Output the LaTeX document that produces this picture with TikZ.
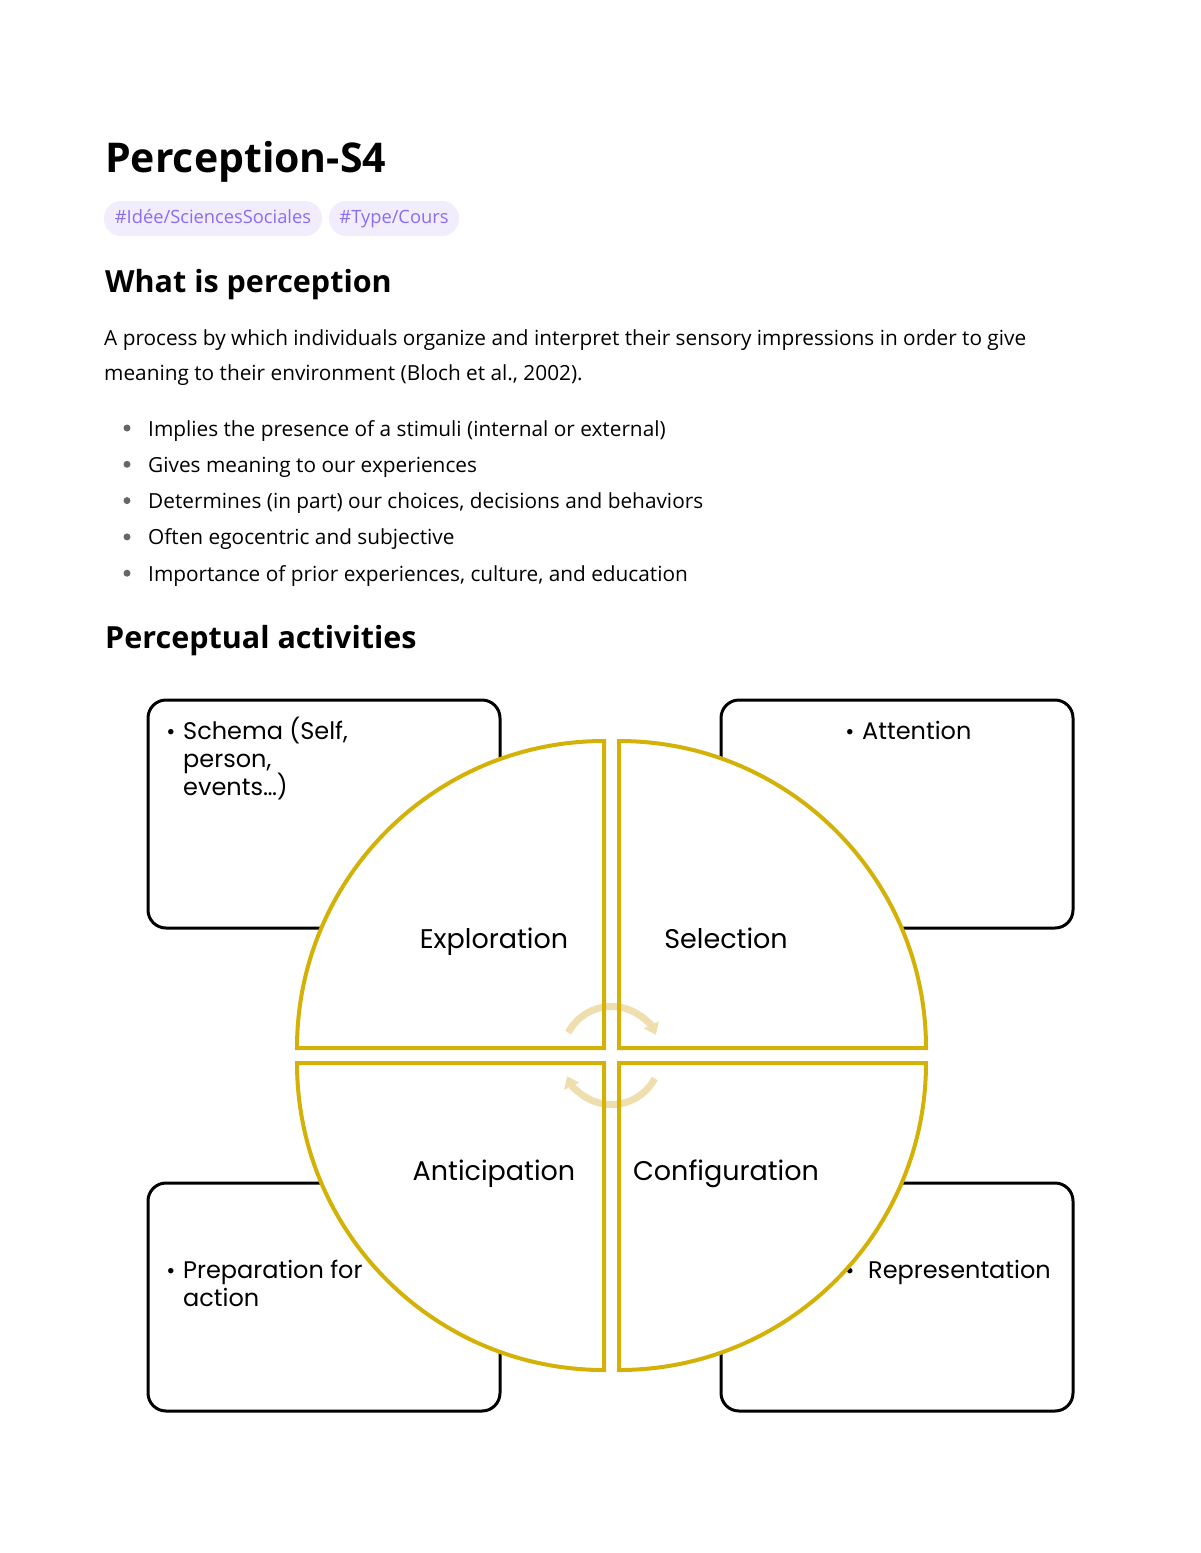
\documentclass[tikz,border=0pt]{standalone}
\usepackage{fontspec}
\setmainfont{Open Sans}
\newfontfamily\gothic{Poppins}
\usetikzlibrary{arrows.meta}
\definecolor{gold}{HTML}{D4B106}
\definecolor{lgold}{HTML}{F0DFAE}
\definecolor{tagbg}{HTML}{F1EDFD}
\definecolor{tagfg}{HTML}{8B6CF2}
\definecolor{dotgray}{HTML}{666666}
\begin{document}
\begin{tikzpicture}[x=1pt,y=1pt,
  txt/.style={anchor=base west,inner sep=0pt},
  heading/.style={txt,font=\bfseries\fontsize{30.5}{36}\selectfont},
  body/.style={txt,font=\fontsize{20.8}{24}\selectfont},
  tag/.style={fill=tagbg,text=tagfg,rounded corners=17pt,minimum height=35pt,inner sep=0pt,text height=13pt,text depth=4pt,font=\fontsize{18.3}{20}\selectfont},
  box/.style={draw=black,line width=3pt,rounded corners=18pt,fill=white},
  quadfill/.style={fill=white},
  quadline/.style={draw=gold,line width=4pt,line join=miter},
  cyc/.style={draw=lgold,line width=7pt,-{Triangle[width=16pt,length=11pt]}},
  btxt/.style={anchor=base west,inner sep=0pt,font=\gothic\fontsize{24}{28}\selectfont},
  bdot/.style={anchor=base,inner sep=0pt,font=\gothic\fontsize{22}{28}\selectfont},
  qlab/.style={anchor=base,inner sep=0pt,font=\gothic\fontsize{27}{30}\selectfont},
  dot/.style={circle,fill=dotgray,inner sep=0pt,minimum size=7pt}
]
\useasboundingbox (0,0) rectangle (1200,-1553);
% header
\node[txt,font=\bfseries\fontsize{41}{50}\selectfont] (title) at (105,-172) {Perception-S4};
\node[tag,minimum width=218pt] (tag1) at (213,-218.5) {\#Idée/SciencesSociales};
\node[tag,minimum width=130pt] (tag2) at (394,-218.5) {\#Type/Cours};
\node[heading] (h1) at (105,-292) {What is perception};
\node[body] (p1) at (104,-345) {A process by which individuals organize and interpret their sensory impressions in order to give};
\node[body] (p2) at (104,-380) {meaning to their environment (Bloch et al., 2002).};
\foreach \t [count=\i] in {Implies the presence of a stimuli (internal or external),
  Gives meaning to our experiences,
  {Determines (in part) our choices, decisions and behaviors},
  Often egocentric and subjective,
  {Importance of prior experiences, culture, and education}}{
  \node[dot] (d\i) at (127,{-428-36.3*(\i-1)}) {};
  \node[body] (b\i) at (148,{-436-36.3*(\i-1)}) {\t};
}
\node[heading] (h2) at (105,-648) {Perceptual activities};
% boxes
\draw[box] (148,-700) rectangle (500,-928);
\draw[box] (721,-700) rectangle (1073,-928);
\draw[box] (148,-1183) rectangle (500,-1411);
\draw[box] (721,-1183) rectangle (1073,-1411);
\node[bdot] (s0) at (171,-739) {•};
\node[btxt] (s1) at (183,-739) {Schema (Self,};
\node[btxt] (s2) at (183,-767) {person,};
\node[btxt] (s3) at (183,-795) {events…)};
\node[bdot] (a0) at (850,-739) {•};
\node[btxt] (a1) at (862,-739) {Attention};
\node[bdot] (r0) at (850,-1278) {•};
\node[btxt] (r1) at (868,-1278) {Representation};
\node[bdot] (pa0) at (171,-1278) {•};
\node[btxt] (pa1) at (183,-1278) {Preparation for};
\node[btxt] (pa2) at (183,-1306) {action};
% quadrants
\path[quadfill] (604,-1048) -- (297,-1048) arc[start angle=180,end angle=90,radius=307] -- cycle;
\path[quadfill] (619,-741) arc[start angle=90,end angle=0,radius=307] -- (619,-1048) -- cycle;
\path[quadfill] (297,-1063) arc[start angle=180,end angle=270,radius=307] -- (604,-1063) -- cycle;
\path[quadfill] (926,-1063) arc[start angle=0,end angle=-90,radius=307] -- (619,-1063) -- cycle;
\coordinate (ctr) at (611.5,-1055.5);
\draw[cyc] (ctr) ++(152:49) arc[start angle=152,end angle=25,radius=49];
\draw[cyc] (ctr) ++(-28:49) arc[start angle=-28,end angle=-155,radius=49];
\draw[quadline] (604,-1048) -- (297,-1048) arc[start angle=180,end angle=90,radius=307] -- cycle;
\draw[quadline] (619,-741) arc[start angle=90,end angle=0,radius=307] -- (619,-1048) -- cycle;
\draw[quadline] (297,-1063) arc[start angle=180,end angle=270,radius=307] -- (604,-1063) -- cycle;
\draw[quadline] (926,-1063) arc[start angle=0,end angle=-90,radius=307] -- (619,-1063) -- cycle;
\node[qlab] (q1) at (494,-948) {Exploration};
\node[qlab] (q2) at (726,-948) {Selection};
\node[qlab] (q3) at (494,-1180) {Anticipation};
\node[qlab] (q4) at (726,-1180) {Configuration};
\end{tikzpicture}
\end{document}
